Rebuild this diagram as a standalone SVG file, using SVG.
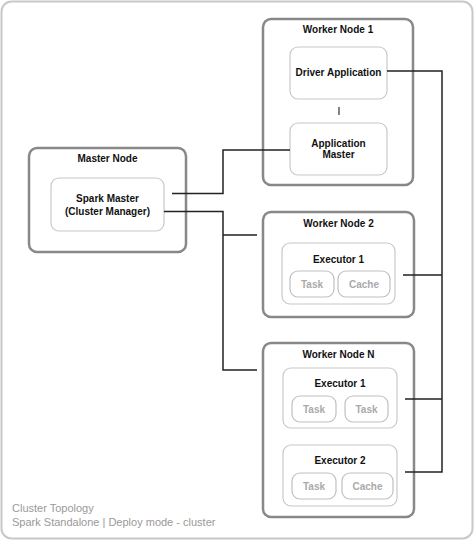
<svg xmlns="http://www.w3.org/2000/svg" width="474" height="540" viewBox="0 0 474 540">
<style>
.frame{fill:#fff;stroke:#c8c8c8;stroke-width:2}
.node{fill:#fff;stroke:#888;stroke-width:2.5}
.inner{fill:#fff;stroke:#c8c8c8;stroke-width:1.2}
.task{fill:#fff;stroke:#c0c0c0;stroke-width:1.2}
.t{font-family:"Liberation Sans",Arial,sans-serif;font-size:10px;font-weight:bold;fill:#111;text-anchor:middle}
.tg{font-family:"Liberation Sans",Arial,sans-serif;font-size:10px;font-weight:bold;fill:#aaa;text-anchor:middle}
.ft{font-family:"Liberation Sans",Arial,sans-serif;font-size:11px;fill:#999}
.c{fill:none;stroke:#222;stroke-width:1.5}
</style>
<rect class="frame" x="1.5" y="1.5" width="471" height="537" rx="10"/>
<g id="master-node">
<rect class="node" x="29" y="148" width="157" height="104" rx="8"/>
<text class="t" x="107.5" y="162">Master Node</text>
<g id="spark-master">
<rect class="inner" x="51" y="178" width="113" height="53" rx="8"/>
<text class="t" x="107.5" y="202">Spark Master</text>
<text class="t" x="107.5" y="215">(Cluster Manager)</text>
</g>
</g>
<g id="worker-node-1">
<rect class="node" x="263" y="19" width="150" height="166" rx="8"/>
<text class="t" x="338" y="33">Worker Node 1</text>
<g id="driver-application">
<rect class="inner" x="290" y="47" width="97" height="52" rx="8"/>
<text class="t" x="338.5" y="76">Driver Application</text>
</g>
<g id="application-master">
<rect class="inner" x="290" y="123" width="97" height="52" rx="8"/>
<text class="t" x="338.5" y="147">Application</text>
<text class="t" x="338.5" y="158">Master</text>
</g>
</g>
<g id="worker-node-2">
<rect class="node" x="263" y="212" width="151" height="105" rx="8"/>
<text class="t" x="338.5" y="227">Worker Node 2</text>
<g id="wn2-executor-1">
<rect class="inner" x="282" y="243" width="113" height="61" rx="8"/>
<text class="t" x="338.5" y="263">Executor 1</text>
<rect class="task" x="290" y="271" width="44" height="26" rx="8"/>
<text class="tg" x="312" y="288">Task</text>
<rect class="task" x="338" y="271" width="52" height="26" rx="8"/>
<text class="tg" x="364" y="288">Cache</text>
</g>
</g>
<g id="worker-node-n">
<rect class="node" x="263" y="343" width="151" height="174" rx="8"/>
<text class="t" x="338.5" y="358">Worker Node N</text>
<g id="wnn-executor-1">
<rect class="inner" x="283" y="368" width="114" height="60" rx="8"/>
<text class="t" x="340" y="387">Executor 1</text>
<rect class="task" x="292" y="396" width="44" height="26" rx="8"/>
<text class="tg" x="314" y="413">Task</text>
<rect class="task" x="345" y="396" width="43" height="26" rx="8"/>
<text class="tg" x="366.5" y="413">Task</text>
</g>
<g id="wnn-executor-2">
<rect class="inner" x="283" y="445" width="114" height="61" rx="8"/>
<text class="t" x="340" y="464">Executor 2</text>
<rect class="task" x="292" y="473" width="44" height="26" rx="8"/>
<text class="tg" x="314" y="490">Task</text>
<rect class="task" x="342" y="473" width="51" height="26" rx="8"/>
<text class="tg" x="367.5" y="490">Cache</text>
</g>
</g>
<g id="connectors">
<path class="c" d="M172 193.5H223V150H290"/>
<path class="c" d="M164 211.5H223V370H257M223 235H257"/>
<path class="c" d="M387 71H442V472H405M403 275H442M405 399H442"/>
<path d="M339 107V115" stroke="#333" stroke-width="1.2"/>
</g>
<text class="ft" x="12" y="512">Cluster Topology</text>
<text class="ft" x="12" y="526">Spark Standalone | Deploy mode - cluster</text>
</svg>
